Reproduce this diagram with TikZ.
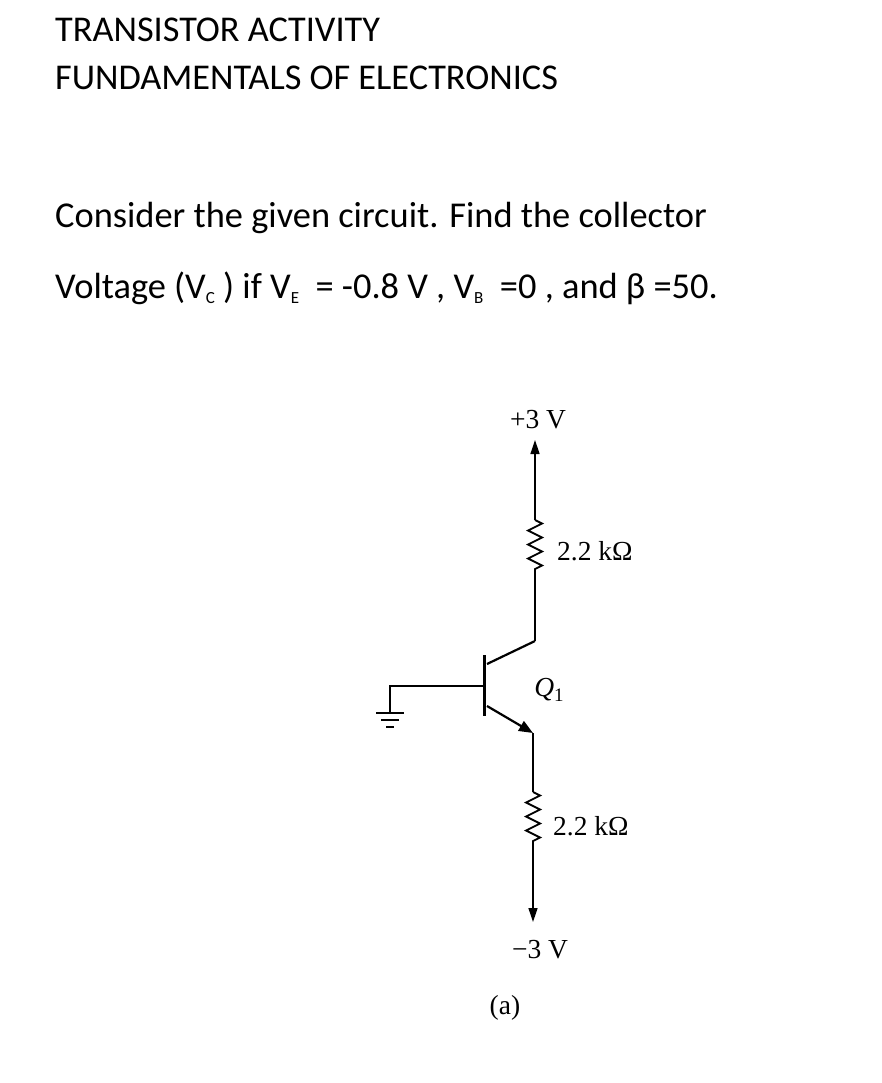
\documentclass[tikz,border=0pt]{standalone}
\usepackage{fontspec}
\setmainfont{Carlito}
\newfontfamily\tms{Liberation Serif}
\usetikzlibrary{arrows.meta,decorations.pathmorphing}
\newcommand{\sbs}[1]{\raisebox{-0.15em}{\fontsize{17}{18}\selectfont #1}}
\newcommand{\qsub}[1]{\raisebox{-0.2em}{\fontsize{19}{20}\selectfont #1}}
\begin{document}
\begin{tikzpicture}[x=1pt,y=-1pt,
  txt/.style={anchor=base west,inner sep=0,font=\fontsize{36.3}{40}\selectfont},
  body/.style={anchor=base west,inner sep=0,font=\fontsize{36.4}{40}\selectfont},
  lab/.style={inner sep=0,font=\tms\fontsize{27.5}{30}\selectfont},
  wire/.style={line width=1.3pt},
  res/.style={line width=1.8pt,decorate,decoration={zigzag,segment length=14pt,amplitude=7pt}},
  tip/.style={-{Triangle[length=14pt,width=9pt]}}]
\useasboundingbox (0,0) rectangle (881,1083);
\node[txt] (t1) at (55,42) {TRANSISTOR ACTIVITY};
\node[txt] (t2) at (55,90) {FUNDAMENTALS OF ELECTRONICS};
\node[body] (q1) at (55,228) {Consider the given circuit. Find the collector};
\node[body] (q2) at (55,298) {Voltage (V\sbs{C} ) if V\sbs{E}~ = -0.8 V , V\sbs{B}~ =0 , and β =50.};
% circuit
\coordinate (vcc) at (535,440);
\coordinate (r1t) at (535,520);
\coordinate (r1b) at (535,570);
\coordinate (c) at (535,641);
\coordinate (cb) at (487,664);
\coordinate (bt) at (484,655);
\coordinate (bb) at (484,716);
\coordinate (b) at (484,686);
\coordinate (g) at (390,686);
\coordinate (g1) at (390,713);
\coordinate (eb) at (487,706);
\coordinate (e) at (533,733);
\coordinate (r2t) at (533,792);
\coordinate (r2b) at (533,846);
\coordinate (vee) at (533,922);
\draw[wire,tip] (r1t) -- (vcc);
\draw[res] (r1t) -- (r1b);
\draw[wire] (r1b) -- (c);
\draw[line width=2.2pt] (c) -- (cb);
\draw[line width=3pt] (bt) -- (bb);
\draw[wire] (b) -- (g) -- (g1);
\draw[line width=2pt] (376,713) -- (404,713);
\draw[line width=2pt] (381,720) -- (399,720);
\draw[line width=2pt] (386,727) -- (394,727);
\draw[line width=2.2pt,-{Triangle[length=14pt,width=11pt]}] (eb) -- (e);
\draw[wire] (e) -- (r2t);
\draw[res] (r2t) -- (r2b);
\draw[wire,tip] (r2b) -- (vee);
\node[lab] (lvcc) at (538,420) {+3 V};
\node[lab,anchor=west] (lr1) at (557,551) {2.2 kΩ};
\node[lab] (lq) at (549,690) {\itshape Q\qsub{\upshape 1}};
\node[lab,anchor=west] (lr2) at (553,826) {2.2 kΩ};
\node[lab] (lvee) at (540,950) {−3 V};
\node[lab] (la) at (505,1008) {(a)};
\end{tikzpicture}
\end{document}
